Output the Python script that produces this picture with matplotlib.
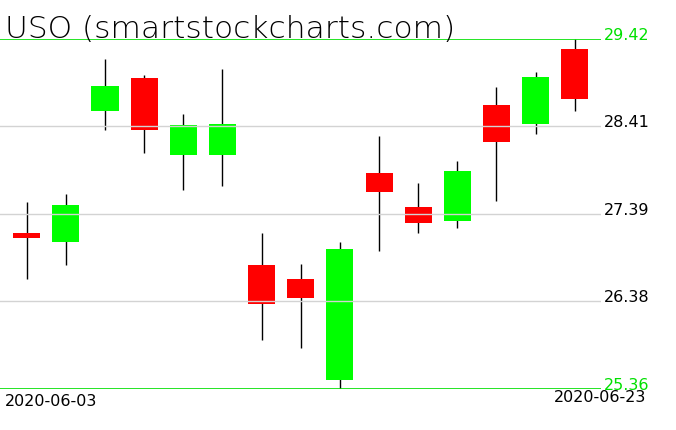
import matplotlib
matplotlib.use("Agg")
import matplotlib.pyplot as plt
import matplotlib.transforms as mtransforms

# USO daily prices
dates = ["2020-06-03", "2020-06-04", "2020-06-05", "2020-06-08", "2020-06-09",
         "2020-06-10", "2020-06-11", "2020-06-12", "2020-06-15", "2020-06-16",
         "2020-06-17", "2020-06-18", "2020-06-19", "2020-06-22", "2020-06-23"]
opens = [27.17, 27.07, 28.58, 28.97, 28.07, 28.07, 26.80, 26.64, 25.46, 27.87,
         27.47, 27.31, 28.65, 28.43, 29.30]
highs = [27.53, 27.62, 29.19, 29.00, 28.55, 29.07, 27.17, 26.81, 27.06, 28.30,
         27.75, 28.01, 28.86, 29.04, 29.42]
lows = [26.64, 26.80, 28.36, 28.10, 27.67, 27.71, 25.93, 25.84, 25.36, 26.96,
        27.17, 27.23, 27.54, 28.32, 28.58]
closes = [27.115, 27.49, 28.87, 28.36, 28.42, 28.43, 26.35, 26.42, 26.98, 27.64,
          27.28, 27.89, 28.22, 28.98, 28.72]

price_max = 29.42
price_min = 25.36
grid_levels = [28.41, 27.39, 26.38]

W, H = 676, 431
fig = plt.figure(figsize=(W / 100, H / 100), dpi=100)
ax = fig.add_axes([0, 1 - 390 / H, 601 / W, 350 / H])

x = list(range(len(dates)))
up_col = "#00ff00"
down_col = "#ff0000"
cols = [up_col if c >= o else down_col for o, c in zip(opens, closes)]

# wicks then bodies
ax.vlines(x, lows, highs, color="black", lw=1.0, zorder=2)
ax.bar(x, [c - o for o, c in zip(opens, closes)], bottom=opens, width=0.69,
       color=cols, zorder=3, linewidth=0)

# grid lines over the bodies like in the original
for lvl in grid_levels:
    ax.axhline(lvl, color="#d3d3d3", lw=1.0, zorder=4)
ax.axhline(price_max, color="#00e000", lw=1.2, zorder=4)
ax.axhline(price_min, color="#00e000", lw=1.2, zorder=4)

ax.set_xlim(-0.682, 14.67)
ax.set_ylim(price_min, price_max)
ax.axis("off")

# price labels on the right
tr = mtransforms.blended_transform_factory(ax.transAxes, ax.transData)
for lvl in grid_levels:
    ax.text(1.005, lvl, f"{lvl:.2f}", transform=tr, ha="left", va="baseline",
            fontsize=11.5, color="black", clip_on=False)
for lvl in [price_max, price_min]:
    ax.text(1.005, lvl, f"{lvl:.2f}", transform=tr, ha="left", va="baseline",
            fontsize=11.5, color="#00e000", clip_on=False)

# title and dates
fig.text(5 / W, 1 - 38 / H, "USO (smartstockcharts.com)", fontsize=22.5,
         va="baseline", ha="left", color="black", fontweight="light")
fig.text(5 / W, 1 - 406 / H, dates[0], fontsize=11.5, va="baseline", ha="left")
fig.text(646 / W, 1 - 402 / H, dates[-1], fontsize=11.5, va="baseline", ha="right")

fig.savefig("out.png", dpi=100, facecolor="white")
